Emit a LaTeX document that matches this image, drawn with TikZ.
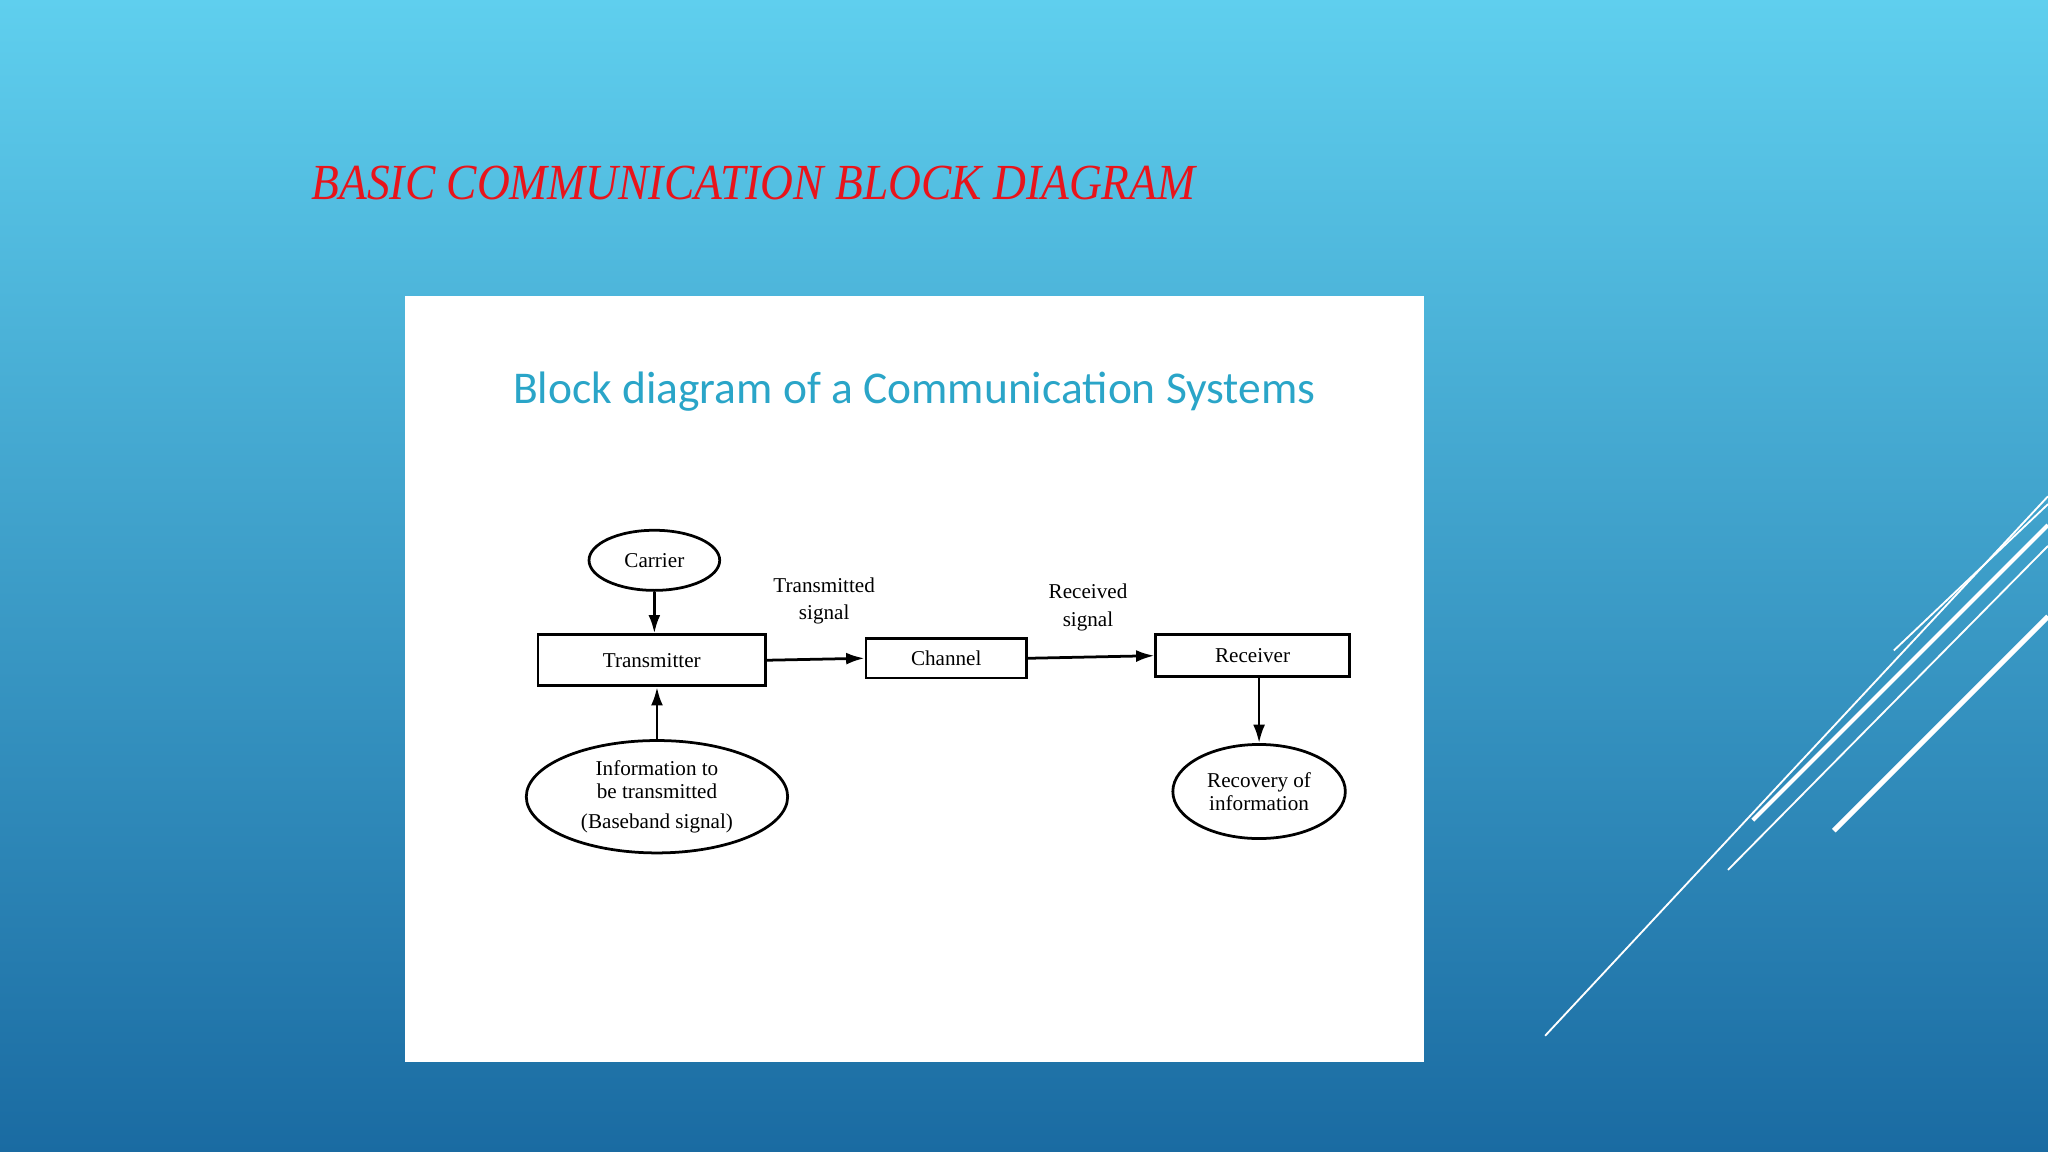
\documentclass[tikz,border=0pt]{standalone}
\usepackage{fontspec}
\setmainfont{Liberation Serif}
\newfontfamily\carlitofont{Carlito}
\usetikzlibrary{arrows.meta,shapes.geometric}
\definecolor{bgtop}{HTML}{5FCFEE}
\definecolor{bgbot}{HTML}{1A6BA2}
\definecolor{ttl}{HTML}{E8141B}
\definecolor{ptl}{HTML}{2AA5C8}
\begin{document}
\begin{tikzpicture}[x=0.01cm,y=-0.01cm,
  box/.style={draw,semithick,minimum height=#1,inner sep=0pt,font=\fontsize{4.6}{5}\selectfont},
  ell/.style={draw,semithick,ellipse,inner sep=0pt,font=\fontsize{4.6}{5}\selectfont,align=center},
  lbl/.style={font=\fontsize{4.6}{6}\selectfont,align=center},
  arr/.style={semithick,-{Latex[length=4pt,width=2.6pt]}},
  deco/.style={white,line width=#1}]
\useasboundingbox (0,0) rectangle (1568,882);
\shade[top color=bgtop,bottom color=bgbot] (0,0) rectangle (1568,882);
\draw[deco=0.4pt] (1183,793) -- (1568,380);
\draw[deco=0.9pt] (1342,628) -- (1568,402);
\draw[deco=0.4pt] (1323,666) -- (1568,418);
\draw[deco=1.1pt] (1404,636) -- (1568,472);
\draw[deco=0.4pt] (1450,498) -- (1568,386);
\node[text=ttl,font=\itshape\fontsize{11}{12}\selectfont,anchor=west,inner sep=0pt,xscale=0.9,transform shape] (title) at (238,140) {BASIC COMMUNICATION BLOCK DIAGRAM};
\fill[white] (310,227) rectangle (1090,813);
\node[text=ptl,font=\carlitofont\fontsize{9.9}{11}\selectfont,inner sep=0pt] (ptitle) at (700,300) {Block diagram of a Communication Systems};
\node[ell,minimum width=1.00cm,minimum height=0.46cm] (car) at (501,429) {Carrier};
\node[box=0.39cm,minimum width=1.74cm] (tx) at (499,505.5) {Transmitter};
\node[box=0.30cm,minimum width=1.23cm] (ch) at (724.5,504) {Channel};
\node[box=0.32cm,minimum width=1.48cm] (rx) at (959,502) {Receiver};
\node[ell,minimum width=2.00cm,minimum height=0.86cm] (info) at (503,610) {Information to\\be transmitted\\[1.5pt](Baseband signal)};
\node[ell,minimum width=1.32cm,minimum height=0.72cm] (rec) at (964,606) {Recovery of\\information};
\node[lbl] (l1) at (631,460) {Transmitted\\signal};
\node[lbl] (l2) at (833,465) {Received\\signal};
\draw[arr] (car) -- (tx.north-|car);
\draw[arr] (info.north) -- (tx.south-|info.north);
\draw[arr] (tx.east) -- (ch.west);
\draw[arr] (ch.east) -- (rx.west);
\draw[arr] (rx.south-|rec.north) -- (rec.north);
\end{tikzpicture}
\end{document}
